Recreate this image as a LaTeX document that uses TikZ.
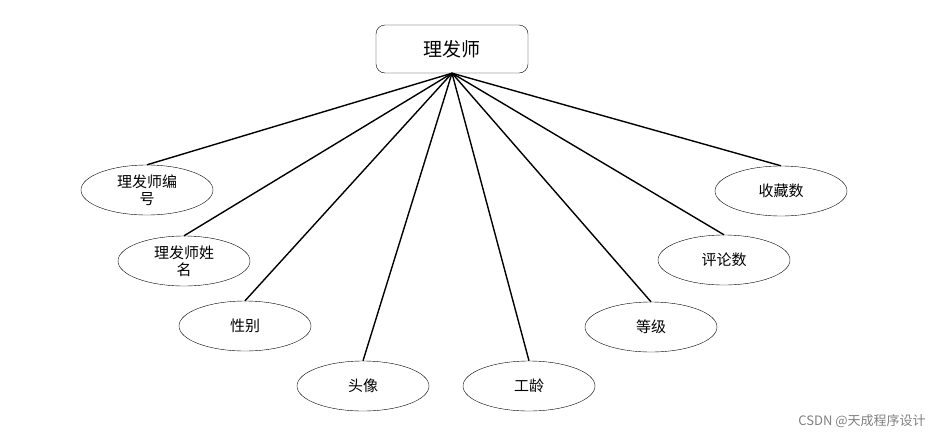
\documentclass[tikz,border=0pt]{standalone}
\usepackage{fontspec}
\newfontfamily\cjk{Noto Sans CJK SC}
\usetikzlibrary{shapes.geometric}
\begin{document}
\begin{tikzpicture}[x=1pt,y=-1pt,
  attr/.style={draw,ellipse,minimum width=132pt,minimum height=50pt,inner sep=0pt,font=\cjk\fontsize{15}{17}\selectfont,align=center,fill=white},
  ent/.style={draw,rounded corners=9pt,minimum width=152pt,minimum height=48pt,font=\cjk\fontsize{19}{20}\selectfont},
  link/.style={line width=1.4pt}]
\useasboundingbox (0,0) rectangle (949,437);
\node[ent] (r) at (452,49) {理发师};
\node[attr] (a1) at (147,190) {理发师编\\号};
\node[attr] (a2) at (184,261) {理发师姓\\名};
\node[attr] (a3) at (245,326) {性别};
\node[attr] (a4) at (363,386) {头像};
\node[attr] (a5) at (529,386) {工龄};
\node[attr] (a6) at (651,327) {等级};
\node[attr] (a7) at (724,260) {评论数};
\node[attr] (a8) at (781,191) {收藏数};
\foreach \n in {a1,a2,a3,a4,a5,a6,a7,a8} \draw[link] (r.south) -- (\n.north);
\node[font=\cjk\fontsize{13}{14}\selectfont,text=gray] (w) at (862,421) {CSDN @天成程序设计};
\end{tikzpicture}
\end{document}
